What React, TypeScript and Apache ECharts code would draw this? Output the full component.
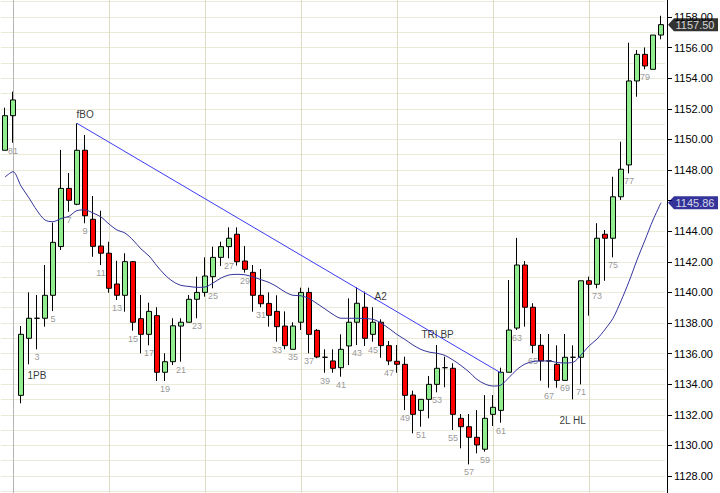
import React, { useEffect, useRef } from 'react';
import * as echarts from 'echarts';

// Bars: two from the previous session (80, 81) then today's bars 1..81
const barNames: string[] = ['p80', 'p81', ...Array.from({ length: 81 }, (_, i) => String(i + 1))];

const opens: number[] = [
  1149.29, 1151.55,
  1133.27, 1137.00, 1138.31, 1138.31, 1139.81, 1143.00, 1146.80, 1145.76, 1149.29, 1144.78,
  1143.03, 1142.56, 1140.55, 1139.81, 1142.01, 1138.28, 1137.26, 1138.48, 1134.78, 1135.47,
  1137.80, 1138.05, 1139.55, 1140.00, 1141.03, 1142.29, 1142.99, 1143.80, 1142.05, 1141.31,
  1139.81, 1139.28, 1138.76, 1137.80, 1136.28, 1138.05, 1140.00, 1137.52, 1135.76, 1135.52,
  1135.08, 1136.50, 1138.05, 1139.03, 1137.26, 1138.05, 1136.52, 1135.50, 1135.30, 1133.29,
  1132.29, 1133.01, 1133.99, 1135.08, 1135.04, 1131.77, 1131.22, 1130.53, 1129.75, 1132.03,
  1132.29, 1134.78, 1137.67, 1141.79, 1139.03, 1136.54, 1135.52, 1135.30, 1134.25, 1135.76,
  1135.76, 1140.76, 1140.53, 1143.80, 1143.54, 1146.25, 1148.33, 1153.82, 1155.56, 1154.58,
  1156.82,
];
const highs: number[] = [
  1152.07, 1153.12,
  1137.80, 1140.00, 1139.83, 1141.79, 1144.56, 1149.31, 1147.80, 1151.05, 1150.29, 1146.30,
  1145.34, 1143.31, 1142.07, 1142.56, 1142.05, 1139.83, 1139.33, 1139.03, 1136.02, 1138.31,
  1138.31, 1139.83, 1141.03, 1142.29, 1142.99, 1143.31, 1144.25, 1144.25, 1143.03, 1141.79,
  1141.53, 1140.00, 1139.81, 1138.76, 1138.05, 1140.31, 1140.31, 1137.60, 1136.28, 1136.28,
  1137.26, 1139.61, 1140.33, 1140.05, 1139.03, 1138.24, 1136.82, 1136.56, 1135.80, 1133.58,
  1133.01, 1134.54, 1136.56, 1135.80, 1135.37, 1132.05, 1132.05, 1132.31, 1133.29, 1133.29,
  1135.08, 1140.81, 1143.56, 1142.05, 1139.29, 1137.28, 1137.28, 1136.54, 1137.28, 1136.54,
  1140.76, 1141.03, 1144.52, 1144.08, 1147.56, 1149.85, 1156.32, 1155.84, 1156.01, 1156.82,
  1158.08,
];
const lows: number[] = [
  1149.29, 1149.78,
  1132.75, 1135.30, 1136.28, 1137.76, 1138.78, 1142.77, 1145.27, 1145.70, 1144.52, 1142.33,
  1141.79, 1139.98, 1139.50, 1138.74, 1137.50, 1136.02, 1136.54, 1134.21, 1134.21, 1135.25,
  1135.47, 1138.05, 1138.31, 1139.72, 1140.27, 1141.73, 1142.23, 1141.75, 1141.29, 1138.74,
  1139.03, 1137.76, 1136.78, 1136.28, 1136.28, 1137.54, 1136.02, 1135.70, 1134.75, 1134.75,
  1134.49, 1135.25, 1136.56, 1136.50, 1136.78, 1135.73, 1135.25, 1134.75, 1132.31, 1130.79,
  1131.22, 1131.77, 1133.47, 1133.80, 1131.01, 1129.81, 1128.76, 1129.48, 1129.59, 1131.27,
  1131.48, 1134.78, 1137.54, 1137.76, 1136.02, 1134.23, 1133.77, 1133.77, 1134.25, 1133.01,
  1133.99, 1138.48, 1140.27, 1140.76, 1142.29, 1146.04, 1147.78, 1152.79, 1154.58, 1154.58,
  1156.54,
];
const closes: number[] = [
  1151.55, 1152.58,
  1137.26, 1138.31, 1138.31, 1139.81, 1143.27, 1146.80, 1146.02, 1149.29, 1145.01, 1143.01,
  1142.56, 1140.27, 1139.81, 1142.01, 1138.05, 1137.26, 1138.76, 1134.78, 1135.47, 1137.82,
  1138.05, 1139.55, 1140.00, 1141.07, 1142.29, 1142.99, 1143.54, 1142.01, 1141.51, 1139.81,
  1139.26, 1138.50, 1137.76, 1136.52, 1137.80, 1140.00, 1137.26, 1135.78, 1135.76, 1135.04,
  1136.28, 1138.05, 1139.29, 1137.00, 1138.05, 1136.52, 1135.52, 1135.30, 1133.27, 1132.03,
  1133.01, 1133.99, 1135.04, 1135.08, 1132.03, 1131.22, 1130.53, 1130.03, 1131.77, 1132.49,
  1134.78, 1137.54, 1141.79, 1139.03, 1136.54, 1135.52, 1135.52, 1134.25, 1135.76, 1135.76,
  1140.76, 1140.53, 1143.54, 1143.54, 1146.25, 1148.05, 1153.82, 1155.56, 1154.80, 1156.82,
  1157.50,
];
const movingAverage: number[] = [
  1147.54, 1147.89,
  1146.95, 1146.17, 1145.35, 1144.73, 1144.62, 1144.83, 1144.97, 1145.35, 1145.39, 1145.19,
  1144.93, 1144.47, 1144.08, 1143.88, 1143.42, 1142.84, 1142.38, 1141.73, 1141.14, 1140.71,
  1140.46, 1140.39, 1140.33, 1140.35, 1140.61, 1140.94, 1141.14, 1141.18, 1141.15, 1141.01,
  1140.83, 1140.65, 1140.37, 1140.03, 1139.81, 1139.78, 1139.60, 1139.27, 1138.92, 1138.56,
  1138.31, 1138.31, 1138.31, 1138.29, 1138.24, 1138.00, 1137.64, 1137.25, 1136.92, 1136.56,
  1136.27, 1136.10, 1136.02, 1135.88, 1135.58, 1135.22, 1134.80, 1134.31, 1134.01, 1133.88,
  1133.95, 1134.44, 1134.96, 1135.32, 1135.48, 1135.52, 1135.52, 1135.42, 1135.39, 1135.43,
  1135.91, 1136.50, 1136.95, 1137.58, 1138.31, 1139.44, 1140.71, 1142.12, 1143.42, 1144.73,
  1145.86,
];

// Bars with a number printed under them
const numberedBars: string[] = [
  'p81', '3', '5', '7', '9', '11', '13', '15', '17', '19', '21', '23', '25', '27', '29', '31',
  '33', '35', '37', '39', '41', '43', '45', '47', '49', '51', '53', '55', '57', '59', '61', '63',
  '65', '67', '69', '71', '73', '75', '77', '79',
];

// Annotations
const noteTexts: string[] = ['fBO', '1PB', 'A2', 'TRI BP', '2L HL'];
const noteBars: string[] = ['8', '1', '45', '51', '68'];
const notePrices: number[] = [1151.61, 1134.54, 1139.72, 1137.26, 1131.66];
const noteGaps: number[] = [-1, 6, 1, 0, 2];

// Trend line
const trendFromBar = '8';
const trendToBar = '61';
const trendToPrice = 1134.73;

// Vertical hour lines and session break
const hourBars: string[] = ['12', '24', '36', '48', '60', '72'];
const sessionBreakBar = 'p81';

const yMin = 1126;
const yMax = 1160;
const yStep = 2;

const GRID = '#EAEAD6';
const VGRID = '#DDDDC6';
const FONT = 'Liberation Sans, Arial, sans-serif';

export default function App() {
  const ref = useRef<HTMLDivElement>(null);

  useEffect(() => {
    document.body.style.margin = '0';
    if (!ref.current) return;
    const chart = echarts.init(ref.current, undefined, { renderer: 'svg' });
    const idx = (name: string) => barNames.indexOf(name);
    const last = barNames.length - 1;
    const tagPrices = [closes[last], movingAverage[last]];

    const vLines = [
      ...hourBars.map((n) => [idx(n), 0]),
      [idx(sessionBreakBar), 1],
    ];

    const option: any = {
      animation: false,
      backgroundColor: '#FFFFFF',
      grid: { left: 1, width: 664, top: -13.6, height: 520.2, outerBoundsMode: 'none', containLabel: false },
      xAxis: { type: 'category', data: barNames, show: false, boundaryGap: true },
      yAxis: {
        type: 'value',
        position: 'right',
        offset: 2,
        min: yMin,
        max: yMax,
        interval: yStep,
        axisLine: { show: true, lineStyle: { color: '#000000', width: 1 } },
        axisTick: { show: true, length: 5, lineStyle: { color: '#000000' } },
        axisLabel: {
          color: '#000000',
          fontSize: 11,
          fontFamily: FONT,
          margin: 7,
          showMinLabel: false,
          showMaxLabel: false,
          formatter: (v: number) => (Math.abs(v - tagPrices[1]) < 0.5 ? '' : v.toFixed(2)),
        },
        splitLine: { show: true, lineStyle: { color: GRID, width: 1 } },
        minorTick: { show: false, splitNumber: 2 },
        minorSplitLine: { show: true, lineStyle: { color: GRID, width: 1 } },
      },
      series: [
        {
          type: 'custom',
          name: 'vlines',
          z: 1,
          silent: true,
          clip: false,
          encode: { x: 0, y: -1 },
          data: vLines,
          renderItem: (params: any, api: any) => {
            const top = api.coord([api.value(0), yMax]);
            const bottom = api.coord([api.value(0), yMin]);
            const x = Math.round(top[0]) + 0.5;
            return {
              type: 'line',
              shape: { x1: x, y1: top[1], x2: x, y2: bottom[1] },
              style: { stroke: api.value(1) === 1 ? '#B4B4B4' : VGRID, lineWidth: 1 },
            };
          },
        },
        {
          type: 'scatter',
          name: 'numbers',
          z: 2,
          clip: false,
          symbolSize: 1,
          itemStyle: { color: 'rgba(0,0,0,0)' },
          data: numberedBars.map((n) => {
            const i = idx(n);
            return { value: [i, lows[i]], name: n.replace('p', '') };
          }),
          label: {
            show: true,
            position: 'bottom',
            distance: 3,
            formatter: (p: any) => p.name,
            color: '#7C7C7C',
            fontSize: 9,
            fontFamily: FONT,
          },
        },
        {
          type: 'candlestick',
          name: 'price',
          z: 3,
          barWidth: 5,
          data: barNames.map((_, i) => [opens[i], closes[i], lows[i], highs[i]]),
          itemStyle: {
            color: '#90EE90',
            color0: '#FF0000',
            borderColor: '#000000',
            borderColor0: '#000000',
            borderColorDoji: '#000000',
            borderWidth: 1,
          },
          markLine: {
            silent: true,
            symbol: ['none', 'none'],
            label: { show: false },
            lineStyle: { color: '#3C3CF5', width: 1, type: 'solid' },
            data: [
              [
                { coord: [idx(trendFromBar), highs[idx(trendFromBar)]] },
                { coord: [idx(trendToBar), trendToPrice] },
              ],
            ],
          },
        },
        {
          type: 'line',
          name: 'ma',
          z: 4,
          data: movingAverage,
          symbol: 'none',
          smooth: 0.3,
          lineStyle: { color: '#34349C', width: 1 },
        },
        {
          type: 'scatter',
          name: 'notes',
          z: 5,
          clip: false,
          symbolSize: 1,
          itemStyle: { color: 'rgba(0,0,0,0)' },
          data: noteTexts.map((t, k) => ({
            value: [idx(noteBars[k]), notePrices[k]],
            name: t,
            label: { distance: noteGaps[k] },
          })),
          label: {
            show: true,
            position: 'right',
            formatter: (p: any) => p.name,
            color: '#000000',
            fontSize: 10,
            fontFamily: FONT,
          },
        },
        {
          type: 'scatter',
          name: 'tags',
          z: 10,
          clip: false,
          symbol: 'path://M0,6.5 L6,0 L50,0 L50,13 L6,13 Z',
          symbolKeepAspect: false,
          symbolSize: [50, 13],
          symbolOffset: [32, 0],
          data: [
            { value: [last, tagPrices[0]], itemStyle: { color: '#000000' } },
            { value: [last, tagPrices[1]], itemStyle: { color: '#000080' } },
          ],
          label: {
            show: true,
            position: 'inside',
            offset: [2, 0],
            formatter: (p: any) => p.value[1].toFixed(2),
            color: '#FFFFFF',
            fontSize: 11,
            fontFamily: FONT,
          },
        },
      ],
    };
    chart.setOption(option);
    return () => chart.dispose();
  }, []);

  return <div ref={ref} style={{ width: 720, height: 493 }} />;
}
